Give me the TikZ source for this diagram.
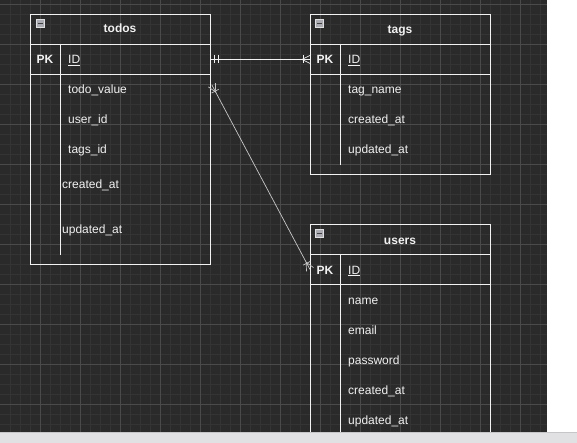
\documentclass[tikz,border=0pt]{standalone}
\usepackage{fontspec}
\setmainfont{Liberation Sans}
\usetikzlibrary{positioning, calc, decorations.markings}

\definecolor{canvas}{HTML}{2A2A2A}
\definecolor{gridminor}{HTML}{343434}
\definecolor{gridmajor}{HTML}{4A4A4A}
\definecolor{linefg}{HTML}{F2F2F2}
\definecolor{linesoft}{HTML}{C8C8C8}
\definecolor{iconfill}{HTML}{ABABB3}
\definecolor{pagebar}{HTML}{E1E1E4}

\tikzset{
    tablebox/.style={draw=linefg, line width=0.9pt, minimum width=180pt, minimum height=30pt,
        anchor=north west, inner sep=0pt},
    title/.style={text=linefg, font=\bfseries\fontsize{12}{14}\selectfont, anchor=base, inner sep=0pt},
    field/.style={text=linefg, font=\fontsize{12}{14}\selectfont, anchor=base west, inner sep=0pt},
    pk/.style={text=linefg, font=\bfseries\fontsize{12}{14}\selectfont, anchor=base, inner sep=0pt},
    minusicon/.style={draw=gray!25, fill=iconfill, minimum size=7.8pt, inner sep=0pt,
        path picture={\draw[black!75, line width=1.2pt]
            ($(path picture bounding box.west)+(1.4pt,0)$) -- ($(path picture bounding box.east)+(-1.4pt,0)$);}},
    crowend/.style={postaction={decorate, decoration={markings, mark=at position 1 with {
        \draw[#1, line width=0.7pt] (0pt,4pt) -- (-8pt,0pt) -- (0pt,-4pt);
        \draw[#1, line width=0.7pt] (-7pt,4pt) -- (-7pt,-4pt);}}}},
    crowstart/.style={postaction={decorate, decoration={markings, mark=at position 0 with {
        \draw[#1, line width=0.7pt] (0pt,4pt) -- (8pt,0pt) -- (0pt,-4pt);
        \draw[#1, line width=0.7pt] (7pt,4pt) -- (7pt,-4pt);}}}},
    twobars/.style={postaction={decorate, decoration={markings, mark=at position 0 with {
        \draw[#1, line width=0.7pt] (3pt,4pt) -- (3pt,-4pt);
        \draw[#1, line width=0.7pt] (7pt,4pt) -- (7pt,-4pt);}}}}
}

\begin{document}
\begin{tikzpicture}[x=1pt, y=-1pt]
    \useasboundingbox (0,0) rectangle (577,443);

    % canvas and grid
    \fill[canvas] (0,0) rectangle (547,432);
    \foreach \x in {10,20,...,540}
        \draw[gridminor, line width=0.8pt] (\x,0) -- (\x,432);
    \foreach \y in {4,14,...,424}
        \draw[gridminor, line width=0.8pt] (0,\y) -- (547,\y);
    \foreach \x in {40,80,...,520}
        \draw[gridmajor, line width=0.8pt] (\x,0) -- (\x,432);
    \foreach \y in {4,44,...,404}
        \draw[gridmajor, line width=0.8pt] (0,\y) -- (547,\y);

    % todos
    \node[tablebox] (todoshead) at (30,14) {};
    \node[tablebox] (todosid) at (30,44) {};
    \node[tablebox, minimum height=190pt] (todosbody) at (30,74) {};
    \draw[linefg, line width=0.9pt] ($(todosid.north west)+(30,0)$) -- ($(todosbody.south west)+(30,-10)$);
    \node[minusicon] (todosicon) at (40,23.2) {};
    \node[title] (todostitle) at (120,33) {todos};
    \node[pk] (todospk) at (45,64) {PK};
    \node[field] (todoskey) at (68,64) {\underline{ID}};
    \node[field] (todosvalue) at (68,94) {todo\_value};
    \node[field] (todosuser) at (68,124) {user\_id};
    \node[field] (todostags) at (68,154) {tags\_id};
    \node[field] (todoscreated) at (62,189) {created\_at};
    \node[field] (todosupdated) at (62,234) {updated\_at};

    % tags
    \node[tablebox] (tagshead) at (310,14) {};
    \node[tablebox] (tagsid) at (310,44) {};
    \node[tablebox, minimum height=100pt] (tagsbody) at (310,74) {};
    \draw[linefg, line width=0.9pt] ($(tagsid.north west)+(30,0)$) -- ($(tagsbody.south west)+(30,-10)$);
    \node[minusicon] (tagsicon) at (319.5,23.2) {};
    \node[title] (tagstitle) at (400,34) {tags};
    \node[pk] (tagspk) at (325,64) {PK};
    \node[field] (tagskey) at (348,64) {\underline{ID}};
    \node[field] (tagsname) at (348,94) {tag\_name};
    \node[field] (tagscreated) at (348,124) {created\_at};
    \node[field] (tagsupdated) at (348,154) {updated\_at};

    % users
    \node[tablebox] (usershead) at (310,224) {};
    \node[tablebox] (usersid) at (310,254) {};
    \node[tablebox, minimum height=170pt] (usersbody) at (310,284) {};
    \draw[linefg, line width=0.9pt] ($(usersid.north west)+(30,0)$) -- (usersbody.south west -| 340,0);
    \node[minusicon] (usersicon) at (319.5,233.2) {};
    \node[title] (userstitle) at (400,244) {users};
    \node[pk] (userspk) at (325,274) {PK};
    \node[field] (userskey) at (348,274) {\underline{ID}};
    \node[field] (usersname) at (348,304) {name};
    \node[field] (usersemail) at (348,334) {email};
    \node[field] (userspassword) at (348,364) {password};
    \node[field] (userscreated) at (348,394) {created\_at};
    \node[field] (usersupdated) at (348,424) {updated\_at};

    % relations
    \draw[linefg, line width=0.8pt, twobars=linefg, crowend=linefg] (todosid.east) -- (tagsid.west);
    \coordinate (todosfk) at ($(todosbody.north east)+(1,11)$);
    \draw[linesoft, line width=0.7pt, crowstart=linesoft, crowend=linesoft] (todosfk) -- (usersid.west);

    % page edges
    \fill[white] (547,0) rectangle (577,432);
    \fill[pagebar] (0,432) rectangle (577,443);
    \draw[gray!45, line width=0.8pt] (0,432) -- (577,432);
\end{tikzpicture}
\end{document}
